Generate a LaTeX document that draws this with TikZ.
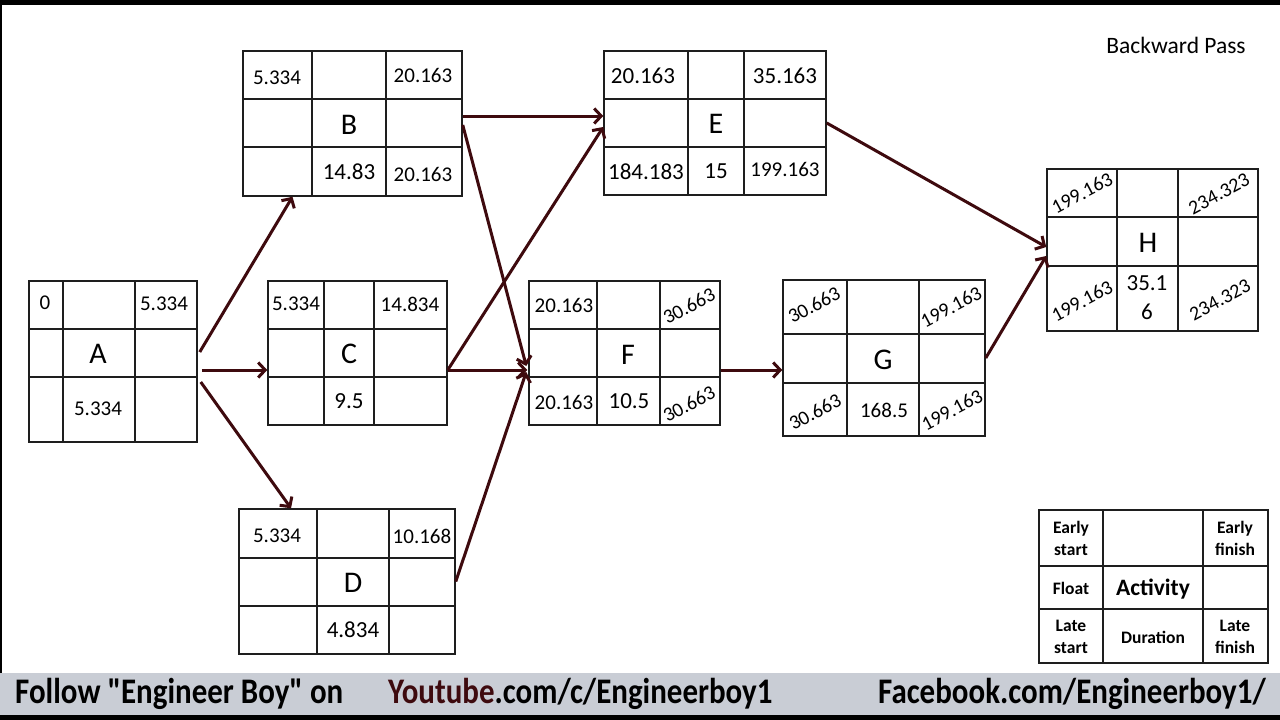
\documentclass[tikz,border=0pt]{standalone}
\usepackage{fontspec}
\setmainfont{Carlito}
\newfontfamily\bannerfont[FakeStretch=0.86]{Carlito}
\definecolor{pmarrow}{RGB}{62,10,14}
\definecolor{pmgrid}{RGB}{30,30,30}
\definecolor{pmbanner}{RGB}{201,205,213}
\usetikzlibrary{arrows.meta}
\tikzset{
  actframe/.style={draw=pmgrid,line width=1.5pt,inner sep=0pt},
  actgrid/.style={draw=pmgrid,line width=1.5pt},
  flow/.style={pmarrow,line width=3pt,-{Straight Barb[length=7pt,width=15pt]}},
  num/.style={inner sep=0pt,font=\fontsize{21}{24}\selectfont},
  bignum/.style={inner sep=0pt,font=\fontsize{23}{26}\selectfont},
  tilted/.style={inner sep=0pt,rotate=28,font=\fontsize{20}{23}\selectfont},
  actname/.style={inner sep=0pt,font=\fontsize{30}{34}\selectfont},
  keytext/.style={inner sep=0pt,align=center,font=\bfseries\fontsize{17.5}{22}\selectfont},
  bannertext/.style={inner sep=0pt,font=\bannerfont\bfseries\fontsize{36}{40}\selectfont}
}
\newcommand{\actbox}[9]{%
  \node[actframe,minimum width={(#4-#2)*1pt},minimum height={(#5-#3)*1pt}] (#1) at ({(#2+#4)/2},{(#3+#5)/2}) {};
  \draw[actgrid] (#6,#3)--(#6,#5) (#7,#3)--(#7,#5) (#2,#8)--(#4,#8) (#2,#9)--(#4,#9);}
\begin{document}
\begin{tikzpicture}[x=1pt,y=-1pt]
  \useasboundingbox (0,0) rectangle (1280,720);
  \fill[white] (0,0) rectangle (1280,720);
  \fill[black] (0,0) rectangle (1280,5);
  \fill[black] (0,5) rectangle (2,673);
  \fill[pmbanner] (0,673) rectangle (1280,715);
  \fill[black] (0,715) rectangle (1280,720);

  \actbox{A}{29}{281}{197}{442}{63}{135}{329}{377}
  \actbox{B}{243}{51}{462}{196}{312}{386}{99}{147}
  \actbox{C}{268}{281}{447}{425}{324}{374}{329}{377}
  \actbox{D}{239}{509}{455}{654}{317}{389}{558}{606}
  \actbox{E}{604}{51}{826}{195}{688}{744}{99}{147}
  \actbox{F}{529}{281}{720}{425}{597}{660}{329}{377}
  \actbox{G}{783}{280}{985}{436}{847}{919}{334}{383}
  \actbox{H}{1047}{169}{1258}{331}{1117}{1178}{217}{266}
  \actbox{K}{1039}{510}{1268}{663}{1103}{1203}{566}{609}

  \node[num] (Aes) at (45,303) {0};
  \node[num] (Aef) at (164,304) {5.334};
  \node[actname] (Alab) at (98,354) {A};
  \node[num] (Adur) at (98,409) {5.334};

  \node[num] (Bes) at (277,78) {5.334};
  \node[num] (Bef) at (423,75) {20.163};
  \node[actname] (Blab) at (349,125) {B};
  \node[bignum] (Bdur) at (349,172) {14.83};
  \node[num] (Blf) at (423,174) {20.163};

  \node[num] (Ces) at (296,304) {5.334};
  \node[num] (Cef) at (410,304) {14.834};
  \node[actname] (Clab) at (349,354) {C};
  \node[bignum] (Cdur) at (349,401) {9.5};

  \node[num] (Des) at (277,536) {5.334};
  \node[num] (Def) at (422,536) {10.168};
  \node[actname] (Dlab) at (353,583) {D};
  \node[bignum] (Ddur) at (353,630) {4.834};

  \node[bignum] (Ees) at (643,76) {20.163};
  \node[bignum] (Eef) at (785,76) {35.163};
  \node[actname] (Elab) at (716,124) {E};
  \node[bignum] (Els) at (646,172) {184.183};
  \node[bignum] (Edur) at (716,171) {15};
  \node[num] (Elf) at (785,169) {199.163};

  \node[num] (Fes) at (564,305) {20.163};
  \node[tilted] (Fef) at (689,306) {30.663};
  \node[actname] (Flab) at (628,355) {F};
  \node[num] (Fls) at (564,402) {20.163};
  \node[bignum] (Fdur) at (629,401) {10.5};
  \node[tilted] (Flf) at (689,404) {30.663};

  \node[tilted] (Ges) at (814,305) {30.663};
  \node[tilted] (Gef) at (951,307) {199.163};
  \node[actname] (Glab) at (883,360) {G};
  \node[tilted] (Gls) at (815,412) {30.663};
  \node[num] (Gdur) at (884,410) {168.5};
  \node[tilted] (Glf) at (952,410) {199.163};

  \node[tilted] (Hes) at (1082,193) {199.163};
  \node[tilted] (Hef) at (1219,194) {234.323};
  \node[actname] (Hlab) at (1148,243) {H};
  \node[tilted] (Hls) at (1082,301) {199.163};
  \node[bignum,align=center,font=\fontsize{23}{29}\selectfont] (Hdur) at (1147,298) {35.1\\6};
  \node[tilted] (Hlf) at (1220,300) {234.323};

  \node[keytext] (Kes) at (1071,538) {Early\\start};
  \node[keytext] (Kef) at (1235,538) {Early\\finish};
  \node[keytext] (Kfl) at (1071,588) {Float};
  \node[keytext,font=\bfseries\fontsize{23.5}{26}\selectfont] (Klab) at (1153,589) {Activity};
  \node[keytext] (Kls) at (1071,637) {Late\\start};
  \node[keytext] (Kdur) at (1153,637) {Duration};
  \node[keytext] (Klf) at (1235,637) {Late\\finish};

  \node[inner sep=0pt,font=\fontsize{23.5}{26}\selectfont] (title) at (1176,45) {Backward Pass};

  \draw[flow] ([xshift=2pt,yshift=9.5pt]A.east) -- ([xshift=-60pt]B.south);
  \draw[flow] ([xshift=4pt,yshift=-8.5pt]A.east) -- ([yshift=-17pt]C.west);
  \draw[flow] ([xshift=3pt,yshift=-20.5pt]A.east) -- ([xshift=-56pt]D.north);
  \draw[flow] ([yshift=7.5pt]B.east) -- ([yshift=7pt]E.west);
  \draw[flow] ([yshift=-1.5pt]B.east) -- ([xshift=-2pt,yshift=-13pt]F.west);
  \draw[flow] ([yshift=-17pt]C.east) -- ([yshift=-4pt]E.west);
  \draw[flow] ([yshift=-17pt]C.east) -- ([xshift=-1pt,yshift=-17pt]F.west);
  \draw[flow] (D.east) -- ([xshift=-2pt,yshift=-19pt]F.west);
  \draw[flow] (E.east) -- ([yshift=3pt]H.west);
  \draw[flow] ([yshift=-17pt]F.east) -- ([yshift=-12pt]G.west);
  \draw[flow] (G.east) -- ([yshift=-6pt]H.west);

  \node[bannertext,anchor=west] (follow) at (15,694) {Follow "Engineer Boy" on};
  \node[bannertext,anchor=west] (youtube) at (388,694) {\textcolor{pmarrow}{Youtube}.com/c/Engineerboy1};
  \node[bannertext,anchor=east] (facebook) at (1266,694) {Facebook.com/Engineerboy1/};
\end{tikzpicture}
\end{document}
